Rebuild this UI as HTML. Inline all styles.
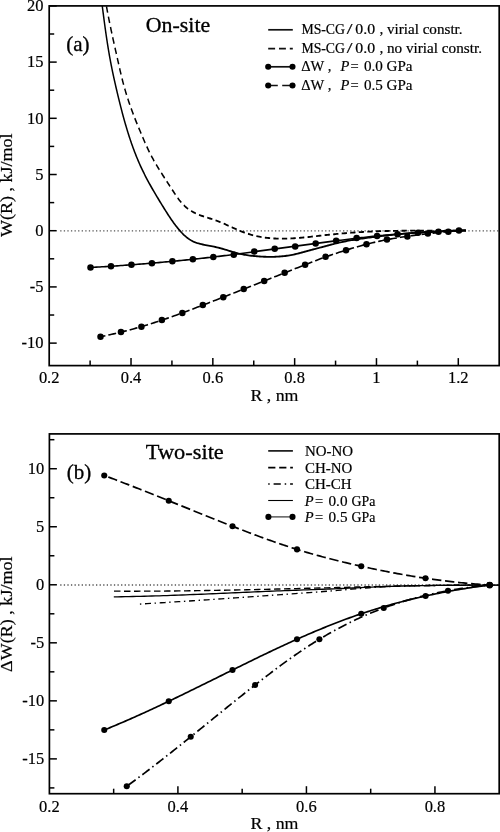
<!DOCTYPE html>
<html><head><meta charset="utf-8"><title>Figure</title>
<style>html,body{margin:0;padding:0;background:#fff}svg{display:block}text{stroke:#000;stroke-width:.2px}text.t{stroke-width:.32px}</style></head>
<body>
<svg width="500" height="832" viewBox="0 0 500 832" font-family="Liberation Serif, serif" fill="#000">
<rect width="500" height="832" fill="#fff"/>
<clipPath id="ca"><rect x="49.2" y="5.9" width="450.0" height="359.70000000000005"/></clipPath>
<line x1="60.2" y1="230.8" x2="499.2" y2="230.8" stroke="#555" stroke-width="1.3" stroke-dasharray="1.3 2.28"/>
<g clip-path="url(#ca)" fill="none" stroke="#000" stroke-width="1.6">
<g transform="scale(0.8,1)" stroke-width="1.85">
<path d="M122.72,-24.99 L122.97,-23.59 L123.21,-22.19 L123.46,-20.79 L123.70,-19.38 L123.94,-17.98 L124.17,-16.58 L124.41,-15.17 L124.64,-13.77 L124.88,-12.36 L125.11,-10.95 L125.34,-9.55 L125.57,-8.14 L125.79,-6.73 L126.02,-5.32 L126.25,-3.91 L126.47,-2.51 L126.70,-1.10 L126.93,0.31 L127.15,1.72 L127.38,3.13 L127.60,4.54 L127.83,5.95 L128.05,7.36 L128.28,8.78 L128.50,10.19 L128.73,11.60 L128.96,13.01 L129.19,14.42 L129.41,15.83 L129.65,17.24 L129.88,18.65 L130.11,20.06 L130.34,21.47 L130.58,22.88 L130.82,24.29 L131.06,25.70 L131.30,27.11 L131.54,28.52 L131.79,29.93 L132.04,31.34 L132.29,32.74 L132.54,34.15 L132.80,35.56 L133.06,36.96 L133.32,38.37 L133.58,39.78 L133.85,41.18 L134.12,42.59 L134.39,43.99 L134.67,45.39 L134.95,46.80 L135.24,48.20 L135.53,49.60 L135.82,51.00 L136.12,52.40 L136.42,53.80 L136.72,55.19 L137.03,56.59 L137.35,57.99 L137.67,59.38 L137.99,60.78 L138.32,62.17 L138.65,63.56 L138.99,64.95 L139.33,66.34 L139.68,67.73 L140.03,69.12 L140.39,70.51 L140.75,71.90 L141.11,73.28 L141.48,74.67 L141.85,76.05 L142.23,77.44 L142.60,78.82 L142.99,80.21 L143.37,81.59 L143.76,82.97 L144.15,84.36 L144.55,85.74 L144.95,87.12 L145.35,88.50 L145.75,89.88 L146.16,91.27 L146.57,92.65 L146.98,94.03 L147.39,95.41 L147.81,96.79 L148.23,98.17 L148.65,99.55 L149.08,100.93 L149.50,102.31 L149.93,103.70 L150.37,105.08 L150.80,106.45 L151.24,107.83 L151.69,109.21 L152.13,110.59 L152.58,111.97 L153.04,113.34 L153.50,114.72 L153.96,116.09 L154.43,117.47 L154.90,118.84 L155.38,120.21 L155.86,121.58 L156.35,122.95 L156.84,124.32 L157.34,125.68 L157.84,127.05 L158.35,128.41 L158.86,129.77 L159.38,131.13 L159.91,132.49 L160.44,133.85 L160.98,135.20 L161.52,136.55 L162.08,137.90 L162.63,139.25 L163.20,140.60 L163.77,141.94 L164.35,143.28 L164.94,144.62 L165.53,145.96 L166.14,147.29 L166.75,148.63 L167.36,149.95 L167.99,151.28 L168.63,152.61 L169.27,153.93 L169.92,155.24 L170.58,156.56 L171.25,157.87 L171.93,159.18 L172.61,160.49 L173.31,161.79 L174.02,163.09 L174.73,164.39 L175.46,165.68 L176.19,166.97 L176.94,168.25 L177.69,169.53 L178.46,170.81 L179.23,172.09 L180.02,173.36 L180.81,174.63 L181.62,175.89 L182.43,177.15 L183.25,178.41 L184.08,179.66 L184.92,180.92 L185.77,182.16 L186.62,183.41 L187.48,184.65 L188.35,185.89 L189.22,187.13 L190.10,188.37 L190.99,189.60 L191.88,190.83 L192.77,192.06 L193.67,193.29 L194.58,194.51 L195.49,195.73 L196.40,196.95 L197.32,198.17 L198.24,199.39 L199.16,200.61 L200.09,201.82 L201.02,203.04 L201.95,204.25 L202.88,205.46 L203.81,206.67 L204.75,207.88 L205.68,209.08 L206.62,210.29 L207.57,211.49 L208.52,212.69 L209.47,213.89 L210.44,215.08 L211.41,216.27 L212.39,217.45 L213.38,218.62 L214.39,219.79 L215.40,220.96 L216.43,222.11 L217.48,223.26 L218.54,224.40 L219.61,225.53 L220.70,226.65 L221.81,227.77 L222.94,228.87 L224.09,229.96 L225.27,231.04 L226.46,232.10 L227.68,233.15 L228.93,234.16 L230.21,235.16 L231.52,236.11 L232.86,237.03 L234.23,237.91 L235.65,238.75 L237.10,239.53 L238.59,240.27 L240.12,240.94 L241.70,241.55 L243.32,242.10 L244.97,242.61 L246.65,243.06 L248.35,243.47 L250.06,243.85 L251.79,244.20 L253.53,244.52 L255.27,244.82 L257.02,245.10 L258.78,245.37 L260.53,245.63 L262.29,245.89 L264.05,246.15 L265.80,246.42 L267.56,246.69 L269.30,246.98 L271.04,247.29 L272.77,247.62 L274.49,247.98 L276.21,248.35 L277.91,248.74 L279.62,249.14 L281.31,249.55 L283.01,249.97 L284.70,250.40 L286.39,250.82 L288.09,251.24 L289.78,251.66 L291.48,252.07 L293.17,252.46 L294.88,252.85 L296.58,253.21 L298.30,253.56 L300.02,253.88 L301.75,254.18 L303.48,254.46 L305.22,254.71 L306.97,254.95 L308.72,255.17 L310.48,255.37 L312.24,255.56 L314.00,255.73 L315.77,255.89 L317.54,256.03 L319.31,256.16 L321.09,256.29 L322.86,256.40 L324.64,256.50 L326.41,256.59 L328.19,256.67 L329.97,256.73 L331.75,256.78 L333.53,256.82 L335.31,256.85 L337.08,256.86 L338.86,256.86 L340.64,256.84 L342.41,256.81 L344.19,256.76 L345.96,256.69 L347.73,256.61 L349.50,256.52 L351.26,256.40 L353.03,256.27 L354.79,256.12 L356.55,255.96 L358.30,255.77 L360.06,255.57 L361.80,255.35 L363.55,255.10 L365.29,254.84 L367.02,254.56 L368.76,254.26 L370.48,253.93 L372.21,253.59 L373.92,253.24 L375.64,252.87 L377.36,252.49 L379.07,252.12 L380.78,251.73 L382.50,251.36 L384.21,250.98 L385.93,250.61 L387.64,250.25 L389.36,249.88 L391.07,249.52 L392.79,249.16 L394.51,248.80 L396.22,248.44 L397.94,248.09 L399.66,247.72 L401.37,247.36 L403.09,246.99 L404.80,246.62 L406.52,246.25 L408.23,245.88 L409.94,245.51 L411.66,245.14 L413.37,244.77 L415.09,244.40 L416.81,244.05 L418.53,243.70 L420.25,243.35 L421.98,243.02 L423.70,242.69 L425.43,242.38 L427.16,242.08 L428.90,241.78 L430.64,241.50 L432.38,241.22 L434.12,240.95 L435.86,240.69 L437.61,240.44 L439.35,240.20 L441.10,239.96 L442.85,239.73 L444.61,239.50 L446.36,239.28 L448.11,239.07 L449.87,238.86 L451.63,238.66 L453.39,238.46 L455.14,238.26 L456.90,238.07 L458.66,237.88 L460.42,237.69 L462.19,237.51 L463.95,237.32 L465.71,237.14 L467.47,236.96 L469.23,236.79 L470.99,236.61 L472.76,236.44 L474.52,236.27 L476.28,236.10 L478.05,235.93 L479.81,235.77 L481.57,235.61 L483.34,235.44 L485.10,235.29 L486.87,235.13 L488.63,234.98 L490.40,234.82 L492.16,234.67 L493.93,234.53 L495.69,234.38 L497.46,234.24 L499.22,234.10 L500.99,233.96 L502.76,233.82 L504.53,233.69 L506.29,233.56 L508.06,233.43 L509.83,233.30 L511.60,233.18 L513.36,233.06 L515.13,232.94 L516.90,232.83 L518.67,232.71 L520.44,232.60 L522.21,232.49 L523.98,232.39 L525.75,232.28 L527.52,232.18 L529.29,232.08 L531.06,231.99 L532.83,231.90 L534.60,231.81 L536.37,231.72 L538.14,231.64 L539.92,231.56 L541.69,231.48 L543.46,231.40 L545.23,231.33 L547.00,231.26 L548.78,231.19 L550.55,231.13 L552.32,231.07 L554.10,231.01 L555.87,230.96 L557.64,230.90 L559.42,230.86 L561.19,230.81 L562.97,230.77 L564.74,230.73 L566.52,230.69 L568.29,230.66 L570.07,230.63 L571.84,230.60 L573.62,230.58 L575.40,230.56 L577.17,230.54 L578.95,230.53 L580.73,230.52 L582.50,230.51"/>
<path d="M133.10,6.40 L133.23,6.98 L133.53,8.31 L133.83,9.63 L134.14,10.95 L134.45,12.28 L134.76,13.60 L135.07,14.92 L135.39,16.24 L135.72,17.56 L136.04,18.88 L136.37,20.20 L136.70,21.52 L137.03,22.84 L137.37,24.16 L137.71,25.48 L138.05,26.79 L138.40,28.11 L138.74,29.43 L139.09,30.74 L139.44,32.06 L139.79,33.38 L140.15,34.69 L140.50,36.01 L140.86,37.33 L141.22,38.64 L141.58,39.96 L141.94,41.27 L142.30,42.59 L142.66,43.90 L143.03,45.21 L143.39,46.53 L143.76,47.84 L144.13,49.16 L144.49,50.47 L144.86,51.79 L145.23,53.10 L145.60,54.41 L145.96,55.73 L146.33,57.04 L146.70,58.35 L147.07,59.67 L147.44,60.98 L147.80,62.30 L148.17,63.61 L148.54,64.92 L148.91,66.24 L149.28,67.55 L149.66,68.86 L150.03,70.17 L150.41,71.49 L150.80,72.80 L151.18,74.11 L151.57,75.42 L151.97,76.72 L152.37,78.03 L152.78,79.34 L153.20,80.64 L153.62,81.94 L154.04,83.24 L154.48,84.54 L154.92,85.84 L155.37,87.14 L155.83,88.43 L156.30,89.73 L156.77,91.02 L157.25,92.31 L157.74,93.59 L158.24,94.88 L158.74,96.17 L159.25,97.45 L159.77,98.73 L160.29,100.01 L160.82,101.29 L161.36,102.56 L161.90,103.84 L162.45,105.11 L163.01,106.38 L163.57,107.65 L164.14,108.92 L164.71,110.18 L165.29,111.44 L165.88,112.71 L166.47,113.96 L167.07,115.22 L167.68,116.48 L168.29,117.73 L168.90,118.98 L169.52,120.23 L170.15,121.48 L170.78,122.73 L171.41,123.98 L172.05,125.22 L172.69,126.46 L173.34,127.71 L173.99,128.95 L174.63,130.19 L175.29,131.43 L175.94,132.68 L176.59,133.92 L177.25,135.17 L177.91,136.41 L178.57,137.66 L179.23,138.90 L179.90,140.14 L180.57,141.38 L181.25,142.62 L181.94,143.85 L182.63,145.08 L183.33,146.31 L184.03,147.54 L184.75,148.76 L185.47,149.97 L186.20,151.18 L186.95,152.39 L187.70,153.59 L188.47,154.79 L189.24,155.97 L190.03,157.16 L190.83,158.34 L191.64,159.51 L192.45,160.68 L193.28,161.84 L194.12,163.00 L194.96,164.15 L195.81,165.31 L196.67,166.45 L197.54,167.60 L198.41,168.74 L199.29,169.88 L200.18,171.02 L201.07,172.16 L201.97,173.29 L202.87,174.42 L203.77,175.55 L204.68,176.69 L205.60,177.82 L206.51,178.95 L207.43,180.08 L208.35,181.21 L209.28,182.34 L210.20,183.47 L211.13,184.60 L212.05,185.74 L212.98,186.88 L213.91,188.01 L214.83,189.16 L215.76,190.30 L216.68,191.44 L217.61,192.59 L218.54,193.73 L219.49,194.86 L220.44,195.99 L221.41,197.10 L222.39,198.21 L223.39,199.29 L224.41,200.36 L225.46,201.41 L226.53,202.44 L227.63,203.44 L228.77,204.41 L229.93,205.36 L231.14,206.27 L232.38,207.14 L233.66,207.99 L234.98,208.79 L236.33,209.57 L237.72,210.31 L239.13,211.02 L240.57,211.69 L242.04,212.33 L243.53,212.95 L245.05,213.53 L246.58,214.08 L248.13,214.60 L249.70,215.09 L251.28,215.56 L252.87,216.01 L254.48,216.45 L256.09,216.87 L257.70,217.27 L259.32,217.68 L260.94,218.08 L262.56,218.48 L264.18,218.89 L265.79,219.30 L267.39,219.73 L268.99,220.17 L270.57,220.63 L272.15,221.11 L273.71,221.60 L275.27,222.10 L276.82,222.62 L278.37,223.15 L279.91,223.68 L281.44,224.23 L282.97,224.78 L284.50,225.33 L286.03,225.89 L287.56,226.44 L289.08,227.00 L290.61,227.56 L292.14,228.11 L293.68,228.66 L295.21,229.20 L296.75,229.73 L298.30,230.26 L299.86,230.77 L301.42,231.27 L302.98,231.76 L304.56,232.24 L306.14,232.70 L307.73,233.15 L309.32,233.58 L310.92,233.99 L312.52,234.39 L314.14,234.78 L315.75,235.14 L317.38,235.48 L319.01,235.81 L320.64,236.11 L322.29,236.40 L323.93,236.67 L325.58,236.91 L327.24,237.14 L328.90,237.36 L330.56,237.55 L332.23,237.73 L333.90,237.89 L335.58,238.03 L337.25,238.16 L338.93,238.28 L340.61,238.37 L342.30,238.46 L343.98,238.53 L345.67,238.59 L347.35,238.63 L349.04,238.66 L350.73,238.68 L352.42,238.69 L354.10,238.68 L355.79,238.66 L357.48,238.64 L359.16,238.60 L360.84,238.55 L362.53,238.50 L364.21,238.43 L365.89,238.36 L367.56,238.28 L369.24,238.19 L370.92,238.10 L372.59,237.99 L374.27,237.88 L375.94,237.77 L377.61,237.65 L379.29,237.52 L380.96,237.39 L382.63,237.26 L384.30,237.12 L385.97,236.98 L387.64,236.84 L389.31,236.69 L390.98,236.54 L392.65,236.39 L394.32,236.24 L395.99,236.09 L397.66,235.94 L399.33,235.79 L401.00,235.64 L402.67,235.49 L404.35,235.34 L406.02,235.19 L407.69,235.04 L409.36,234.90 L411.04,234.76 L412.71,234.62 L414.39,234.48 L416.06,234.34 L417.74,234.21 L419.41,234.07 L421.09,233.94 L422.76,233.82 L424.44,233.69 L426.12,233.57 L427.79,233.45 L429.47,233.33 L431.15,233.21 L432.83,233.10 L434.51,232.99 L436.18,232.88 L437.86,232.77 L439.54,232.67 L441.22,232.57 L442.90,232.48 L444.58,232.39 L446.26,232.30 L447.94,232.21 L449.62,232.13 L451.30,232.05 L452.98,231.97 L454.66,231.89 L456.34,231.82 L458.02,231.75 L459.70,231.69 L461.38,231.62 L463.06,231.56 L464.74,231.50 L466.42,231.45 L468.10,231.39 L469.78,231.34 L471.46,231.29 L473.14,231.25 L474.82,231.20 L476.50,231.16 L478.19,231.12 L479.87,231.08 L481.55,231.04 L483.23,231.01 L484.91,230.98 L486.59,230.94 L488.28,230.92 L489.96,230.89 L491.64,230.86 L493.32,230.84 L495.00,230.82 L496.69,230.80 L498.37,230.78 L500.05,230.76 L501.73,230.74 L503.42,230.73 L505.10,230.71 L506.78,230.70 L508.46,230.69 L510.15,230.68 L511.83,230.67 L513.51,230.66 L515.19,230.65 L516.88,230.64 L518.56,230.64 L520.24,230.63 L521.92,230.63 L523.61,230.62 L525.29,230.62 L526.97,230.62 L528.66,230.62 L530.34,230.61 L532.02,230.61 L533.71,230.61 L535.39,230.61 L537.07,230.61 L538.75,230.61 L540.44,230.61 L542.12,230.61 L543.80,230.61 L545.49,230.61 L547.17,230.61 L548.85,230.61 L550.53,230.61 L552.22,230.61 L553.90,230.61 L555.58,230.61 L557.26,230.61 L558.95,230.60 L560.63,230.60 L562.31,230.60 L564.00,230.59 L565.68,230.59 L567.36,230.58 L569.04,230.58 L570.73,230.57 L572.41,230.56 L574.09,230.56 L575.77,230.55 L577.45,230.54 L579.14,230.52 L580.82,230.51 L582.50,230.50" stroke-dasharray="6.6 4.1" stroke-dashoffset="0.2"/>
</g>
<path d="M90.50,267.50 L92.39,267.39 L94.28,267.28 L96.17,267.17 L98.06,267.05 L99.96,266.94 L101.85,266.82 L103.74,266.70 L105.63,266.58 L107.52,266.46 L109.41,266.34 L111.30,266.21 L113.19,266.08 L115.08,265.96 L116.97,265.83 L118.86,265.70 L120.75,265.56 L122.64,265.43 L124.53,265.29 L126.42,265.16 L128.31,265.02 L130.20,264.88 L132.09,264.74 L133.98,264.59 L135.87,264.45 L137.75,264.30 L139.64,264.15 L141.53,264.00 L143.42,263.85 L145.31,263.70 L147.20,263.54 L149.08,263.39 L150.97,263.23 L152.86,263.07 L154.75,262.91 L156.64,262.74 L158.52,262.58 L160.41,262.41 L162.30,262.24 L164.18,262.07 L166.07,261.90 L167.96,261.73 L169.84,261.55 L171.73,261.38 L173.62,261.20 L175.50,261.02 L177.39,260.84 L179.27,260.65 L181.16,260.47 L183.05,260.28 L184.93,260.09 L186.82,259.90 L188.70,259.70 L190.58,259.51 L192.47,259.31 L194.35,259.11 L196.24,258.91 L198.12,258.71 L200.00,258.51 L201.89,258.30 L203.77,258.09 L205.65,257.88 L207.54,257.67 L209.42,257.46 L211.30,257.24 L213.18,257.02 L215.06,256.80 L216.94,256.58 L218.82,256.35 L220.71,256.12 L222.59,255.89 L224.47,255.66 L226.35,255.42 L228.22,255.19 L230.10,254.95 L231.98,254.71 L233.86,254.46 L235.74,254.21 L237.62,253.96 L239.49,253.71 L241.37,253.46 L243.25,253.20 L245.12,252.95 L247.00,252.69 L248.88,252.43 L250.75,252.17 L252.63,251.92 L254.51,251.66 L256.38,251.40 L258.26,251.14 L260.14,250.89 L262.01,250.63 L263.89,250.38 L265.77,250.12 L267.65,249.87 L269.52,249.62 L271.40,249.36 L273.28,249.11 L275.16,248.86 L277.03,248.61 L278.91,248.37 L280.79,248.12 L282.67,247.87 L284.54,247.62 L286.42,247.38 L288.30,247.13 L290.18,246.88 L292.06,246.64 L293.94,246.39 L295.81,246.14 L297.69,245.89 L299.57,245.64 L301.45,245.39 L303.33,245.14 L305.20,244.89 L307.08,244.63 L308.96,244.38 L310.84,244.13 L312.72,243.88 L314.59,243.63 L316.47,243.37 L318.35,243.12 L320.23,242.87 L322.11,242.62 L323.98,242.37 L325.86,242.12 L327.74,241.88 L329.62,241.63 L331.50,241.38 L333.38,241.14 L335.26,240.89 L337.13,240.65 L339.01,240.41 L340.89,240.17 L342.77,239.93 L344.65,239.69 L346.53,239.46 L348.41,239.23 L350.29,239.00 L352.17,238.77 L354.05,238.54 L355.94,238.32 L357.82,238.10 L359.70,237.88 L361.58,237.66 L363.46,237.45 L365.34,237.23 L367.23,237.03 L369.11,236.82 L370.99,236.62 L372.88,236.42 L374.76,236.22 L376.64,236.03 L378.53,235.84 L380.41,235.66 L382.30,235.48 L384.18,235.30 L386.07,235.12 L387.96,234.95 L389.84,234.79 L391.73,234.63 L393.62,234.47 L395.51,234.31 L397.40,234.17 L399.28,234.02 L401.17,233.88 L403.06,233.75 L404.95,233.61 L406.84,233.49 L408.74,233.36 L410.63,233.24 L412.52,233.12 L414.41,233.01 L416.30,232.90 L418.19,232.79 L420.09,232.68 L421.98,232.58 L423.87,232.48 L425.76,232.38 L427.66,232.28 L429.55,232.18 L431.44,232.09 L433.33,231.99 L435.23,231.90 L437.12,231.81 L439.01,231.72 L440.91,231.63 L442.80,231.54 L444.69,231.45 L446.58,231.36 L448.48,231.27 L450.37,231.17 L452.26,231.08 L454.15,230.99 L456.04,230.90 L457.93,230.80 L459.82,230.71 L461.71,230.61 L463.60,230.51 L465.49,230.41" stroke-width="1.6"/>
<path d="M100.49,336.73 L102.38,336.34 L104.26,335.95 L106.13,335.55 L108.01,335.14 L109.89,334.72 L111.76,334.30 L113.63,333.87 L115.50,333.43 L117.37,332.99 L119.24,332.53 L121.10,332.08 L122.96,331.61 L124.82,331.13 L126.68,330.65 L128.54,330.17 L130.39,329.67 L132.25,329.17 L134.10,328.66 L135.95,328.14 L137.79,327.62 L139.64,327.09 L141.48,326.56 L143.32,326.01 L145.16,325.46 L147.00,324.91 L148.84,324.34 L150.67,323.78 L152.50,323.20 L154.33,322.62 L156.16,322.03 L157.98,321.44 L159.81,320.83 L161.63,320.23 L163.45,319.61 L165.26,318.99 L167.08,318.37 L168.89,317.74 L170.70,317.10 L172.51,316.46 L174.32,315.82 L176.12,315.16 L177.93,314.51 L179.73,313.85 L181.53,313.19 L183.33,312.52 L185.13,311.85 L186.93,311.18 L188.73,310.50 L190.53,309.82 L192.32,309.14 L194.11,308.46 L195.91,307.77 L197.70,307.08 L199.49,306.40 L201.29,305.70 L203.08,305.01 L204.87,304.32 L206.66,303.63 L208.45,302.93 L210.24,302.24 L212.03,301.54 L213.82,300.84 L215.61,300.15 L217.39,299.45 L219.18,298.75 L220.97,298.05 L222.76,297.35 L224.55,296.65 L226.33,295.95 L228.12,295.24 L229.91,294.54 L231.69,293.84 L233.48,293.13 L235.27,292.43 L237.05,291.72 L238.84,291.02 L240.62,290.31 L242.41,289.61 L244.19,288.90 L245.98,288.19 L247.76,287.49 L249.55,286.78 L251.33,286.07 L253.12,285.36 L254.90,284.65 L256.69,283.94 L258.47,283.24 L260.26,282.53 L262.04,281.82 L263.82,281.11 L265.61,280.40 L267.39,279.69 L269.18,278.98 L270.96,278.27 L272.74,277.56 L274.53,276.86 L276.31,276.15 L278.10,275.44 L279.88,274.73 L281.67,274.02 L283.45,273.31 L285.23,272.60 L287.02,271.90 L288.80,271.19 L290.59,270.48 L292.37,269.77 L294.16,269.07 L295.94,268.36 L297.73,267.66 L299.52,266.95 L301.30,266.25 L303.09,265.54 L304.87,264.84 L306.66,264.13 L308.45,263.43 L310.23,262.73 L312.02,262.03 L313.81,261.34 L315.60,260.65 L317.40,259.96 L319.19,259.29 L320.99,258.61 L322.79,257.95 L324.59,257.29 L326.40,256.64 L328.21,256.00 L330.02,255.37 L331.84,254.75 L333.66,254.13 L335.48,253.53 L337.30,252.92 L339.13,252.33 L340.96,251.74 L342.79,251.16 L344.62,250.58 L346.45,250.01 L348.29,249.44 L350.13,248.88 L351.96,248.32 L353.81,247.77 L355.65,247.22 L357.49,246.69 L359.34,246.16 L361.19,245.65 L363.04,245.14 L364.90,244.65 L366.76,244.16 L368.62,243.69 L370.48,243.24 L372.35,242.79 L374.22,242.35 L376.09,241.93 L377.96,241.52 L379.84,241.12 L381.72,240.73 L383.60,240.34 L385.48,239.97 L387.37,239.61 L389.25,239.26 L391.14,238.91 L393.03,238.58 L394.92,238.25 L396.82,237.93 L398.71,237.62 L400.61,237.32 L402.50,237.02 L404.40,236.74 L406.30,236.45 L408.20,236.18 L410.10,235.91 L412.01,235.64 L413.91,235.38 L415.81,235.13 L417.72,234.89 L419.62,234.65 L421.53,234.41 L423.44,234.18 L425.34,233.96 L427.25,233.74 L429.16,233.53 L431.07,233.32 L432.98,233.12 L434.89,232.92 L436.80,232.73 L438.71,232.55 L440.62,232.36 L442.53,232.19 L444.45,232.02 L446.36,231.85 L448.27,231.69 L450.18,231.53 L452.10,231.38 L454.01,231.23 L455.92,231.08 L457.84,230.94 L459.75,230.81 L461.67,230.68 L463.58,230.55 L465.49,230.43" stroke-width="1.6" stroke-dasharray="8 3" stroke-dashoffset="3"/>
</g>
<circle cx="90.5" cy="267.5" r="3.25"/>
<circle cx="110.97" cy="266.25" r="3.25"/>
<circle cx="131.44" cy="264.75" r="3.25"/>
<circle cx="151.91" cy="263.2" r="3.25"/>
<circle cx="172.38" cy="261.3" r="3.25"/>
<circle cx="192.85" cy="259.2" r="3.25"/>
<circle cx="213.32" cy="257.0" r="3.25"/>
<circle cx="233.79" cy="254.7" r="3.25"/>
<circle cx="254.26" cy="251.5" r="3.25"/>
<circle cx="274.73" cy="248.8" r="3.25"/>
<circle cx="295.2" cy="246.4" r="3.25"/>
<circle cx="315.66999999999996" cy="243.5" r="3.25"/>
<circle cx="336.14" cy="240.8" r="3.25"/>
<circle cx="356.61" cy="238.1" r="3.25"/>
<circle cx="377.08" cy="236" r="3.25"/>
<circle cx="397.54999999999995" cy="234.2" r="3.25"/>
<circle cx="418.02" cy="232.8" r="3.25"/>
<circle cx="438.49" cy="231.8" r="3.25"/>
<circle cx="458.96" cy="230.6" r="3.25"/>
<circle cx="100.5" cy="336.75" r="3.25"/>
<circle cx="120.96000000000001" cy="332" r="3.25"/>
<circle cx="141.42000000000002" cy="326.75" r="3.25"/>
<circle cx="161.88" cy="320" r="3.25"/>
<circle cx="182.34" cy="313" r="3.25"/>
<circle cx="202.8" cy="305" r="3.25"/>
<circle cx="223.26" cy="297.2" r="3.25"/>
<circle cx="243.72" cy="289.1" r="3.25"/>
<circle cx="264.18" cy="281" r="3.25"/>
<circle cx="284.64" cy="272.8" r="3.25"/>
<circle cx="305.1" cy="264.8" r="3.25"/>
<circle cx="325.56" cy="256.8" r="3.25"/>
<circle cx="346.02" cy="250.3" r="3.25"/>
<circle cx="366.48" cy="244.2" r="3.25"/>
<circle cx="386.94" cy="239.6" r="3.25"/>
<circle cx="407.40000000000003" cy="236.4" r="3.25"/>
<circle cx="427.86" cy="233.6" r="3.25"/>
<circle cx="448.32" cy="231.8" r="3.25"/>
<rect x="49.2" y="5.9" width="450.0" height="359.70000000000005" fill="none" stroke="#000" stroke-width="1.7"/>
<g stroke="#000" stroke-width="1.5">
<line x1="49.2" y1="343.12" x2="56.7" y2="343.12"/>
<line x1="49.2" y1="315.02" x2="54.2" y2="315.02"/>
<line x1="49.2" y1="286.92" x2="56.7" y2="286.92"/>
<line x1="49.2" y1="258.81" x2="54.2" y2="258.81"/>
<line x1="49.2" y1="230.71" x2="56.7" y2="230.71"/>
<line x1="49.2" y1="202.61" x2="54.2" y2="202.61"/>
<line x1="49.2" y1="174.51" x2="56.7" y2="174.51"/>
<line x1="49.2" y1="146.41" x2="54.2" y2="146.41"/>
<line x1="49.2" y1="118.31" x2="56.7" y2="118.31"/>
<line x1="49.2" y1="90.20" x2="54.2" y2="90.20"/>
<line x1="49.2" y1="62.10" x2="56.7" y2="62.10"/>
<line x1="49.2" y1="34.00" x2="54.2" y2="34.00"/>
<line x1="49.2" y1="5.90" x2="56.7" y2="5.90"/>
<line x1="90.11" y1="365.6" x2="90.11" y2="360.6"/>
<line x1="131.02" y1="365.6" x2="131.02" y2="358.1"/>
<line x1="171.93" y1="365.6" x2="171.93" y2="360.6"/>
<line x1="212.84" y1="365.6" x2="212.84" y2="358.1"/>
<line x1="253.75" y1="365.6" x2="253.75" y2="360.6"/>
<line x1="294.65" y1="365.6" x2="294.65" y2="358.1"/>
<line x1="335.56" y1="365.6" x2="335.56" y2="360.6"/>
<line x1="376.47" y1="365.6" x2="376.47" y2="358.1"/>
<line x1="417.38" y1="365.6" x2="417.38" y2="360.6"/>
<line x1="458.29" y1="365.6" x2="458.29" y2="358.1"/>
</g>
<text x="43.5" y="11.20" font-size="17.2" text-anchor="end" textLength="16.5" lengthAdjust="spacingAndGlyphs" >20</text>
<text x="43.5" y="67.40" font-size="17.2" text-anchor="end" textLength="16.5" lengthAdjust="spacingAndGlyphs" >15</text>
<text x="43.5" y="123.61" font-size="17.2" text-anchor="end" textLength="16.5" lengthAdjust="spacingAndGlyphs" >10</text>
<text x="43.5" y="179.81" font-size="17.2" text-anchor="end" textLength="8.25" lengthAdjust="spacingAndGlyphs" >5</text>
<text x="43.5" y="236.01" font-size="17.2" text-anchor="end" textLength="8.25" lengthAdjust="spacingAndGlyphs" >0</text>
<text x="43.5" y="292.22" font-size="17.2" text-anchor="end" textLength="13.74" lengthAdjust="spacingAndGlyphs" >-5</text>
<text x="43.5" y="348.42" font-size="17.2" text-anchor="end" textLength="21.99" lengthAdjust="spacingAndGlyphs" >-10</text>
<text x="49.20" y="383.1" font-size="17.2" text-anchor="middle" textLength="20.62" lengthAdjust="spacingAndGlyphs" >0.2</text>
<text x="131.02" y="383.1" font-size="17.2" text-anchor="middle" textLength="20.62" lengthAdjust="spacingAndGlyphs" >0.4</text>
<text x="212.84" y="383.1" font-size="17.2" text-anchor="middle" textLength="20.62" lengthAdjust="spacingAndGlyphs" >0.6</text>
<text x="294.65" y="383.1" font-size="17.2" text-anchor="middle" textLength="20.62" lengthAdjust="spacingAndGlyphs" >0.8</text>
<text x="376.47" y="383.1" font-size="17.2" text-anchor="middle" textLength="8.25" lengthAdjust="spacingAndGlyphs" >1</text>
<text x="458.29" y="383.1" font-size="17.2" text-anchor="middle" textLength="20.62" lengthAdjust="spacingAndGlyphs" >1.2</text>
<text x="274.4" y="400.7" font-size="16.5" text-anchor="middle" textLength="48" lengthAdjust="spacingAndGlyphs" >R , nm</text>
<text transform="translate(11.6,185.2) rotate(-90)" font-size="16.5" text-anchor="middle" textLength="103.6" lengthAdjust="spacingAndGlyphs">W(R) , kJ/mol</text>
<text x="145.8" y="31.8" font-size="21.5" text-anchor="start" textLength="64.4" lengthAdjust="spacingAndGlyphs" class="t">On-site</text>
<text x="66.2" y="50.8" font-size="21" text-anchor="start" class="t">(a)</text>
<g stroke="#111" stroke-width="1.7">
<line x1="268.2" y1="29.8" x2="292.8" y2="29.8"/>
<line x1="268.2" y1="48.7" x2="292.8" y2="48.7" stroke-dasharray="6.9 3.9"/>
<line x1="268.2" y1="66.8" x2="292.5" y2="66.8"/>
<line x1="268.2" y1="85.5" x2="292.5" y2="85.5" stroke-dasharray="9.6 4.4"/>
</g>
<circle cx="268.2" cy="66.8" r="3.05"/>
<circle cx="292.5" cy="66.8" r="3.05"/>
<circle cx="268.2" cy="85.5" r="3.05"/>
<circle cx="292.5" cy="85.5" r="3.05"/>
<text x="301.4" y="34.2" font-size="14.5" text-anchor="start" textLength="43.6" lengthAdjust="spacingAndGlyphs" >MS-CG</text>
<text x="346.8" y="34.2" font-size="14.5" text-anchor="start" textLength="5.7" lengthAdjust="spacingAndGlyphs" >/</text>
<text x="355.3" y="34.2" font-size="14.5" text-anchor="start" textLength="19.8" lengthAdjust="spacingAndGlyphs" >0.0</text>
<text x="379.4" y="34.2" font-size="14.5" text-anchor="start" textLength="83.2" lengthAdjust="spacingAndGlyphs" >, virial constr.</text>
<text x="301.4" y="53.1" font-size="14.5" text-anchor="start" textLength="43.6" lengthAdjust="spacingAndGlyphs" >MS-CG</text>
<text x="346.8" y="53.1" font-size="14.5" text-anchor="start" textLength="5.7" lengthAdjust="spacingAndGlyphs" >/</text>
<text x="355.3" y="53.1" font-size="14.5" text-anchor="start" textLength="19.8" lengthAdjust="spacingAndGlyphs" >0.0</text>
<text x="379.4" y="53.1" font-size="14.5" text-anchor="start" textLength="102.6" lengthAdjust="spacingAndGlyphs" >, no virial constr.</text>
<text x="301.3" y="71.0" font-size="14.5" text-anchor="start" textLength="30" lengthAdjust="spacingAndGlyphs" >ΔW ,</text>
<text x="340.4" y="71.0" font-size="14.5" text-anchor="start" font-style="italic">P</text>
<text x="350.6" y="71.0" font-size="14.5" text-anchor="start" >=</text>
<text x="363.9" y="71.0" font-size="14.5" text-anchor="start" textLength="48.6" lengthAdjust="spacingAndGlyphs" >0.0 GPa</text>
<text x="301.3" y="89.5" font-size="14.5" text-anchor="start" textLength="30" lengthAdjust="spacingAndGlyphs" >ΔW ,</text>
<text x="340.4" y="89.5" font-size="14.5" text-anchor="start" font-style="italic">P</text>
<text x="350.6" y="89.5" font-size="14.5" text-anchor="start" >=</text>
<text x="363.9" y="89.5" font-size="14.5" text-anchor="start" textLength="48.6" lengthAdjust="spacingAndGlyphs" >0.5 GPa</text>
<clipPath id="cb"><rect x="49.4" y="433.9" width="449.8" height="359.80000000000007"/></clipPath>
<line x1="60.2" y1="585" x2="499.2" y2="585" stroke="#555" stroke-width="1.3" stroke-dasharray="1.3 2.28"/>
<g fill="none" stroke="#000" stroke-width="1.7">
<path d="M104.25,475.50 L106.15,476.21 L108.04,476.92 L109.94,477.64 L111.83,478.35 L113.72,479.07 L115.61,479.79 L117.50,480.52 L119.39,481.24 L121.28,481.97 L123.17,482.69 L125.06,483.42 L126.95,484.16 L128.83,484.89 L130.72,485.63 L132.60,486.36 L134.49,487.10 L136.37,487.84 L138.25,488.58 L140.13,489.32 L142.02,490.07 L143.90,490.81 L145.78,491.56 L147.66,492.30 L149.54,493.05 L151.42,493.80 L153.30,494.55 L155.18,495.30 L157.05,496.05 L158.93,496.81 L160.81,497.56 L162.69,498.31 L164.57,499.07 L166.44,499.82 L168.32,500.58 L170.20,501.33 L172.07,502.09 L173.95,502.84 L175.83,503.60 L177.70,504.36 L179.58,505.12 L181.45,505.87 L183.33,506.63 L185.21,507.39 L187.08,508.14 L188.96,508.90 L190.84,509.66 L192.71,510.41 L194.59,511.17 L196.47,511.92 L198.34,512.68 L200.22,513.43 L202.10,514.19 L203.98,514.94 L205.86,515.69 L207.74,516.45 L209.61,517.20 L211.49,517.95 L213.37,518.70 L215.25,519.45 L217.13,520.19 L219.02,520.94 L220.90,521.69 L222.78,522.43 L224.66,523.17 L226.55,523.92 L228.43,524.66 L230.31,525.39 L232.20,526.13 L234.08,526.87 L235.97,527.60 L237.86,528.34 L239.75,529.07 L241.64,529.80 L243.53,530.52 L245.42,531.25 L247.31,531.97 L249.20,532.69 L251.09,533.40 L252.99,534.12 L254.88,534.83 L256.78,535.53 L258.68,536.24 L260.58,536.94 L262.48,537.63 L264.38,538.33 L266.29,539.02 L268.19,539.70 L270.10,540.38 L272.00,541.06 L273.91,541.73 L275.82,542.40 L277.74,543.06 L279.65,543.71 L281.56,544.37 L283.48,545.01 L285.40,545.66 L287.32,546.29 L289.24,546.92 L291.17,547.55 L293.09,548.17 L295.02,548.78 L296.95,549.39 L298.88,549.99 L300.82,550.58 L302.75,551.17 L304.69,551.75 L306.63,552.32 L308.57,552.89 L310.52,553.46 L312.46,554.02 L314.41,554.57 L316.36,555.11 L318.31,555.65 L320.26,556.19 L322.21,556.72 L324.17,557.25 L326.12,557.76 L328.08,558.28 L330.04,558.79 L332.00,559.29 L333.96,559.79 L335.93,560.29 L337.89,560.78 L339.86,561.26 L341.82,561.74 L343.79,562.22 L345.76,562.69 L347.73,563.16 L349.70,563.62 L351.67,564.08 L353.65,564.54 L355.62,564.99 L357.60,565.43 L359.57,565.88 L361.55,566.32 L363.53,566.75 L365.50,567.18 L367.48,567.61 L369.46,568.04 L371.44,568.46 L373.42,568.87 L375.41,569.29 L377.39,569.69 L379.37,570.10 L381.36,570.50 L383.34,570.90 L385.33,571.29 L387.32,571.68 L389.30,572.06 L391.29,572.44 L393.28,572.82 L395.27,573.19 L397.26,573.55 L399.25,573.92 L401.24,574.27 L403.24,574.63 L405.23,574.98 L407.22,575.32 L409.22,575.66 L411.21,575.99 L413.21,576.33 L415.21,576.65 L417.20,576.97 L419.20,577.29 L421.20,577.60 L423.20,577.90 L425.20,578.21 L427.20,578.50 L429.21,578.79 L431.21,579.08 L433.21,579.36 L435.22,579.64 L437.22,579.91 L439.23,580.17 L441.23,580.43 L443.24,580.69 L445.25,580.94 L447.26,581.18 L449.27,581.42 L451.28,581.65 L453.29,581.88 L455.30,582.10 L457.31,582.32 L459.32,582.53 L461.34,582.74 L463.35,582.94 L465.37,583.13 L467.38,583.32 L469.40,583.50 L471.42,583.68 L473.43,583.85 L475.45,584.02 L477.47,584.17 L479.49,584.33 L481.51,584.47 L483.53,584.61 L485.55,584.75 L487.58,584.88 L489.60,585.00" stroke-dasharray="9.4 3.7" stroke-dashoffset="-4.3"/>
<path d="M104.25,730.00 L106.18,729.21 L108.10,728.42 L110.03,727.63 L111.95,726.83 L113.87,726.02 L115.79,725.21 L117.70,724.40 L119.62,723.59 L121.53,722.77 L123.44,721.94 L125.35,721.11 L127.25,720.28 L129.16,719.45 L131.06,718.61 L132.96,717.77 L134.87,716.92 L136.76,716.07 L138.66,715.22 L140.56,714.37 L142.45,713.51 L144.34,712.65 L146.24,711.78 L148.13,710.92 L150.01,710.05 L151.90,709.17 L153.79,708.30 L155.67,707.42 L157.56,706.54 L159.44,705.66 L161.32,704.77 L163.20,703.88 L165.08,702.99 L166.96,702.10 L168.84,701.21 L170.71,700.31 L172.59,699.41 L174.46,698.51 L176.34,697.61 L178.21,696.71 L180.08,695.80 L181.96,694.90 L183.83,693.99 L185.70,693.08 L187.57,692.17 L189.44,691.26 L191.30,690.34 L193.17,689.43 L195.04,688.51 L196.91,687.60 L198.77,686.68 L200.64,685.76 L202.50,684.84 L204.37,683.92 L206.23,683.00 L208.10,682.08 L209.96,681.16 L211.83,680.23 L213.69,679.31 L215.56,678.39 L217.42,677.47 L219.28,676.54 L221.15,675.62 L223.01,674.70 L224.88,673.77 L226.74,672.85 L228.60,671.93 L230.47,671.00 L232.33,670.08 L234.20,669.16 L236.06,668.24 L237.93,667.32 L239.79,666.40 L241.66,665.48 L243.53,664.56 L245.39,663.65 L247.26,662.73 L249.13,661.82 L251.00,660.90 L252.87,659.99 L254.74,659.08 L256.61,658.17 L258.48,657.27 L260.35,656.36 L262.22,655.46 L264.10,654.56 L265.97,653.66 L267.85,652.76 L269.73,651.86 L271.61,650.97 L273.49,650.08 L275.37,649.19 L277.25,648.31 L279.13,647.43 L281.02,646.55 L282.91,645.67 L284.79,644.80 L286.68,643.93 L288.57,643.06 L290.47,642.20 L292.36,641.34 L294.26,640.48 L296.15,639.63 L298.05,638.78 L299.95,637.93 L301.86,637.09 L303.76,636.26 L305.67,635.42 L307.58,634.59 L309.49,633.77 L311.40,632.95 L313.32,632.13 L315.23,631.32 L317.15,630.52 L319.07,629.71 L320.99,628.92 L322.92,628.13 L324.85,627.34 L326.77,626.56 L328.71,625.78 L330.64,625.01 L332.57,624.25 L334.51,623.49 L336.45,622.74 L338.39,621.99 L340.34,621.25 L342.28,620.52 L344.23,619.79 L346.18,619.07 L348.14,618.35 L350.09,617.64 L352.05,616.94 L354.01,616.25 L355.97,615.56 L357.94,614.88 L359.91,614.21 L361.88,613.54 L363.85,612.88 L365.83,612.23 L367.80,611.58 L369.78,610.94 L371.77,610.31 L373.75,609.69 L375.74,609.08 L377.73,608.47 L379.72,607.86 L381.71,607.27 L383.71,606.68 L385.71,606.10 L387.71,605.53 L389.71,604.96 L391.71,604.40 L393.72,603.85 L395.73,603.30 L397.73,602.76 L399.75,602.23 L401.76,601.70 L403.78,601.18 L405.79,600.67 L407.81,600.16 L409.83,599.66 L411.85,599.17 L413.88,598.68 L415.90,598.20 L417.93,597.73 L419.96,597.26 L421.99,596.80 L424.02,596.35 L426.05,595.90 L428.09,595.46 L430.12,595.02 L432.16,594.59 L434.20,594.17 L436.24,593.76 L438.28,593.35 L440.32,592.94 L442.36,592.54 L444.41,592.15 L446.45,591.76 L448.50,591.38 L450.55,591.01 L452.60,590.64 L454.65,590.28 L456.70,589.92 L458.75,589.57 L460.80,589.23 L462.85,588.89 L464.91,588.56 L466.96,588.23 L469.02,587.91 L471.07,587.59 L473.13,587.28 L475.19,586.98 L477.24,586.68 L479.30,586.39 L481.36,586.10 L483.42,585.81 L485.48,585.54 L487.54,585.27 L489.60,585.00"/>
<path d="M126.75,786.25 L128.47,785.00 L130.19,783.74 L131.90,782.49 L133.61,781.23 L135.32,779.96 L137.02,778.69 L138.73,777.42 L140.43,776.15 L142.12,774.87 L143.82,773.60 L145.51,772.31 L147.20,771.03 L148.89,769.74 L150.58,768.45 L152.26,767.16 L153.95,765.86 L155.63,764.57 L157.31,763.27 L158.98,761.97 L160.66,760.66 L162.33,759.36 L164.00,758.05 L165.67,756.74 L167.34,755.43 L169.01,754.11 L170.67,752.80 L172.34,751.48 L174.00,750.16 L175.66,748.84 L177.32,747.52 L178.98,746.20 L180.64,744.87 L182.29,743.54 L183.95,742.22 L185.60,740.89 L187.26,739.56 L188.91,738.23 L190.56,736.90 L192.22,735.57 L193.87,734.24 L195.52,732.90 L197.17,731.57 L198.82,730.23 L200.47,728.90 L202.12,727.56 L203.77,726.23 L205.42,724.89 L207.06,723.55 L208.71,722.22 L210.36,720.88 L212.01,719.54 L213.66,718.21 L215.31,716.87 L216.96,715.53 L218.61,714.20 L220.25,712.86 L221.91,711.53 L223.56,710.19 L225.21,708.86 L226.86,707.53 L228.51,706.19 L230.16,704.86 L231.82,703.53 L233.47,702.20 L235.13,700.87 L236.78,699.54 L238.44,698.21 L240.10,696.89 L241.76,695.56 L243.42,694.24 L245.08,692.92 L246.74,691.59 L248.41,690.27 L250.08,688.96 L251.74,687.64 L253.41,686.33 L255.08,685.01 L256.75,683.70 L258.43,682.39 L260.10,681.09 L261.78,679.78 L263.46,678.48 L265.14,677.18 L266.83,675.89 L268.52,674.60 L270.21,673.31 L271.90,672.02 L273.59,670.74 L275.29,669.46 L276.99,668.19 L278.70,666.92 L280.41,665.66 L282.12,664.40 L283.83,663.15 L285.55,661.90 L287.27,660.66 L289.00,659.42 L290.73,658.19 L292.47,656.96 L294.20,655.74 L295.95,654.53 L297.70,653.33 L299.45,652.13 L301.21,650.93 L302.97,649.75 L304.73,648.57 L306.51,647.40 L308.28,646.24 L310.07,645.09 L311.86,643.94 L313.65,642.81 L315.45,641.68 L317.26,640.56 L319.07,639.45 L320.88,638.35 L322.71,637.26 L324.54,636.18 L326.37,635.11 L328.22,634.05 L330.06,632.99 L331.92,631.95 L333.78,630.92 L335.64,629.90 L337.51,628.89 L339.39,627.88 L341.27,626.89 L343.16,625.91 L345.05,624.94 L346.95,623.98 L348.85,623.03 L350.76,622.10 L352.68,621.17 L354.59,620.25 L356.52,619.35 L358.45,618.46 L360.38,617.57 L362.32,616.70 L364.27,615.85 L366.22,615.00 L368.18,614.16 L370.14,613.34 L372.10,612.53 L374.07,611.73 L376.04,610.94 L378.02,610.16 L380.01,609.40 L381.99,608.65 L383.99,607.91 L385.98,607.19 L387.99,606.47 L389.99,605.77 L392.00,605.09 L394.02,604.41 L396.03,603.75 L398.06,603.09 L400.08,602.45 L402.11,601.83 L404.15,601.21 L406.18,600.60 L408.22,600.01 L410.27,599.43 L412.32,598.86 L414.37,598.30 L416.42,597.75 L418.48,597.22 L420.54,596.69 L422.60,596.18 L424.66,595.67 L426.73,595.18 L428.80,594.70 L430.88,594.23 L432.95,593.77 L435.03,593.32 L437.11,592.88 L439.19,592.45 L441.28,592.03 L443.37,591.62 L445.45,591.22 L447.54,590.83 L449.64,590.45 L451.73,590.08 L453.83,589.72 L455.92,589.37 L458.02,589.03 L460.12,588.70 L462.22,588.38 L464.32,588.07 L466.43,587.76 L468.53,587.47 L470.63,587.18 L472.74,586.91 L474.85,586.64 L476.95,586.38 L479.06,586.13 L481.17,585.89 L483.28,585.65 L485.38,585.43 L487.49,585.21 L489.60,585.00" stroke-dasharray="9.1 3.45 1.5 3.45" stroke-dashoffset="-1.9"/>
</g>
<g fill="none" stroke="#000" stroke-width="1.35">
<path d="M114.00,591.17 L117.79,591.19 L121.59,591.20 L125.38,591.20 L129.18,591.20 L132.97,591.20 L136.77,591.20 L140.56,591.19 L144.36,591.17 L148.15,591.16 L151.95,591.14 L155.74,591.11 L159.54,591.09 L163.33,591.06 L167.13,591.02 L170.92,590.99 L174.71,590.95 L178.51,590.91 L182.30,590.86 L186.10,590.82 L189.89,590.77 L193.69,590.71 L197.48,590.66 L201.27,590.60 L205.07,590.54 L208.86,590.48 L212.66,590.41 L216.45,590.35 L220.24,590.28 L224.04,590.21 L227.83,590.13 L231.62,590.06 L235.42,589.98 L239.21,589.91 L243.01,589.83 L246.80,589.74 L250.59,589.66 L254.39,589.58 L258.18,589.49 L261.97,589.40 L265.77,589.32 L269.56,589.23 L273.35,589.14 L277.15,589.04 L280.94,588.95 L284.73,588.86 L288.53,588.77 L292.32,588.67 L296.11,588.58 L299.91,588.48 L303.70,588.38 L307.50,588.29 L311.29,588.19 L315.08,588.09 L318.88,588.00 L322.67,587.90 L326.46,587.80 L330.26,587.71 L334.05,587.61 L337.84,587.51 L341.64,587.42 L345.43,587.32 L349.22,587.23 L353.02,587.13 L356.81,587.04 L360.60,586.95 L364.40,586.86 L368.19,586.77 L371.98,586.68 L375.78,586.59 L379.57,586.50 L383.36,586.42 L387.16,586.34 L390.95,586.25 L394.74,586.17 L398.54,586.09 L402.33,586.02 L406.13,585.94 L409.92,585.87 L413.71,585.80 L417.51,585.73 L421.30,585.67 L425.09,585.60 L428.89,585.54 L432.68,585.48 L436.48,585.43 L440.27,585.38 L444.07,585.33 L447.86,585.28 L451.65,585.23 L455.45,585.19 L459.24,585.16 L463.04,585.12 L466.83,585.09 L470.63,585.06 L474.42,585.04 L478.22,585.02 L482.01,585.00 L485.80,584.99 L489.60,584.98" stroke-dasharray="6.5 3.5"/>
<path d="M113.80,596.88 L117.60,596.82 L121.40,596.76 L125.19,596.70 L128.99,596.62 L132.79,596.54 L136.59,596.45 L140.38,596.36 L144.18,596.26 L147.98,596.15 L151.77,596.04 L155.57,595.93 L159.37,595.81 L163.16,595.68 L166.96,595.55 L170.75,595.42 L174.55,595.28 L178.35,595.14 L182.14,594.99 L185.94,594.84 L189.73,594.69 L193.53,594.54 L197.32,594.38 L201.12,594.22 L204.91,594.06 L208.71,593.90 L212.50,593.74 L216.29,593.57 L220.09,593.41 L223.88,593.24 L227.68,593.07 L231.47,592.91 L235.27,592.74 L239.06,592.57 L242.86,592.40 L246.65,592.24 L250.45,592.07 L254.24,591.90 L258.04,591.74 L261.83,591.58 L265.62,591.42 L269.42,591.26 L273.21,591.10 L277.01,590.95 L280.81,590.80 L284.60,590.65 L288.40,590.50 L292.19,590.36 L295.99,590.22 L299.78,590.09 L303.58,589.95 L307.37,589.82 L311.17,589.69 L314.97,589.56 L318.76,589.42 L322.56,589.28 L326.35,589.14 L330.15,588.99 L333.94,588.84 L337.74,588.68 L341.53,588.51 L345.32,588.33 L349.12,588.16 L352.91,587.98 L356.71,587.80 L360.50,587.62 L364.29,587.44 L368.09,587.27 L371.88,587.10 L375.68,586.94 L379.47,586.79 L383.27,586.64 L387.06,586.50 L390.86,586.37 L394.65,586.25 L398.45,586.13 L402.25,586.03 L406.04,585.93 L409.84,585.84 L413.64,585.76 L417.43,585.69 L421.23,585.62 L425.03,585.56 L428.83,585.51 L432.63,585.46 L436.42,585.42 L440.22,585.39 L444.02,585.35 L447.82,585.32 L451.62,585.29 L455.42,585.27 L459.22,585.24 L463.02,585.22 L466.81,585.19 L470.61,585.17 L474.41,585.14 L478.21,585.11 L482.01,585.08 L485.80,585.04 L489.60,585.00"/>
<path d="M139.90,604.09 L143.43,603.88 L146.96,603.66 L150.50,603.44 L154.03,603.22 L157.56,603.00 L161.09,602.78 L164.62,602.56 L168.16,602.34 L171.69,602.11 L175.22,601.89 L178.75,601.66 L182.28,601.43 L185.81,601.20 L189.35,600.97 L192.88,600.74 L196.41,600.51 L199.94,600.27 L203.47,600.04 L207.00,599.80 L210.53,599.56 L214.06,599.32 L217.59,599.08 L221.12,598.84 L224.65,598.60 L228.18,598.36 L231.71,598.11 L235.24,597.87 L238.77,597.62 L242.30,597.37 L245.83,597.12 L249.36,596.87 L252.89,596.62 L256.42,596.37 L259.95,596.12 L263.48,595.87 L267.01,595.61 L270.54,595.36 L274.07,595.10 L277.60,594.85 L281.13,594.59 L284.66,594.34 L288.19,594.09 L291.72,593.83 L295.25,593.58 L298.78,593.33 L302.31,593.08 L305.84,592.83 L309.37,592.58 L312.90,592.32 L316.43,592.06 L319.96,591.80 L323.49,591.53 L327.02,591.26 L330.54,590.98 L334.07,590.69 L337.60,590.39 L341.12,590.08 L344.65,589.77 L348.17,589.46 L351.70,589.15 L355.22,588.85 L358.75,588.55 L362.28,588.26 L365.80,587.99 L369.33,587.73 L372.86,587.49 L376.39,587.27 L379.92,587.06 L383.46,586.88 L386.99,586.70 L390.52,586.55 L394.06,586.40 L397.60,586.27 L401.13,586.15 L404.67,586.05 L408.21,585.95 L411.74,585.86 L415.28,585.78 L418.82,585.71 L422.36,585.65 L425.90,585.59 L429.44,585.54 L432.98,585.49 L436.52,585.45 L440.06,585.42 L443.60,585.38 L447.14,585.35 L450.68,585.33 L454.22,585.30 L457.76,585.27 L461.29,585.25 L464.83,585.22 L468.37,585.20 L471.91,585.17 L475.45,585.14 L478.99,585.11 L482.53,585.08 L486.06,585.04 L489.60,585.00" stroke-dasharray="1.4 3.7 6 3.6"/>
<line x1="489.6" y1="585.1" x2="499.2" y2="585.1" stroke-width="1.6"/>
</g>
<circle cx="104.25" cy="475.5" r="3.05"/>
<circle cx="168.75" cy="500.75" r="3.05"/>
<circle cx="232.5" cy="526.25" r="3.05"/>
<circle cx="297" cy="549.4" r="3.05"/>
<circle cx="361.25" cy="566.25" r="3.05"/>
<circle cx="425.5" cy="578.25" r="3.05"/>
<circle cx="489.6" cy="585" r="3.05"/>
<circle cx="104.25" cy="730" r="3.05"/>
<circle cx="168.75" cy="701.25" r="3.05"/>
<circle cx="232.5" cy="670" r="3.05"/>
<circle cx="297" cy="639.25" r="3.05"/>
<circle cx="361.25" cy="613.75" r="3.05"/>
<circle cx="425.6" cy="596" r="3.05"/>
<circle cx="489.6" cy="585" r="3.05"/>
<circle cx="126.75" cy="786.25" r="3.05"/>
<circle cx="190.75" cy="736.75" r="3.05"/>
<circle cx="255.1" cy="685" r="3.05"/>
<circle cx="319.4" cy="639.25" r="3.05"/>
<circle cx="383.75" cy="608" r="3.05"/>
<circle cx="448" cy="590.75" r="3.05"/>
<circle cx="489.6" cy="585" r="3.05"/>
<circle cx="489.7" cy="585.1" r="3.35"/>
<rect x="49.4" y="433.9" width="449.8" height="359.80000000000007" fill="none" stroke="#000" stroke-width="1.7"/>
<g stroke="#000" stroke-width="1.5">
<line x1="49.4" y1="787.90" x2="54.4" y2="787.90"/>
<line x1="49.4" y1="758.88" x2="56.9" y2="758.88"/>
<line x1="49.4" y1="729.86" x2="54.4" y2="729.86"/>
<line x1="49.4" y1="700.85" x2="56.9" y2="700.85"/>
<line x1="49.4" y1="671.83" x2="54.4" y2="671.83"/>
<line x1="49.4" y1="642.82" x2="56.9" y2="642.82"/>
<line x1="49.4" y1="613.80" x2="54.4" y2="613.80"/>
<line x1="49.4" y1="584.78" x2="56.9" y2="584.78"/>
<line x1="49.4" y1="555.77" x2="54.4" y2="555.77"/>
<line x1="49.4" y1="526.75" x2="56.9" y2="526.75"/>
<line x1="49.4" y1="497.74" x2="54.4" y2="497.74"/>
<line x1="49.4" y1="468.72" x2="56.9" y2="468.72"/>
<line x1="49.4" y1="439.70" x2="54.4" y2="439.70"/>
<line x1="113.66" y1="793.7" x2="113.66" y2="788.7"/>
<line x1="177.91" y1="793.7" x2="177.91" y2="786.2"/>
<line x1="242.17" y1="793.7" x2="242.17" y2="788.7"/>
<line x1="306.43" y1="793.7" x2="306.43" y2="786.2"/>
<line x1="370.69" y1="793.7" x2="370.69" y2="788.7"/>
<line x1="434.94" y1="793.7" x2="434.94" y2="786.2"/>
</g>
<text x="44.2" y="474.22" font-size="17.2" text-anchor="end" textLength="16.5" lengthAdjust="spacingAndGlyphs" >10</text>
<text x="44.2" y="532.25" font-size="17.2" text-anchor="end" textLength="8.25" lengthAdjust="spacingAndGlyphs" >5</text>
<text x="44.2" y="590.28" font-size="17.2" text-anchor="end" textLength="8.25" lengthAdjust="spacingAndGlyphs" >0</text>
<text x="44.2" y="648.32" font-size="17.2" text-anchor="end" textLength="13.74" lengthAdjust="spacingAndGlyphs" >-5</text>
<text x="44.2" y="706.35" font-size="17.2" text-anchor="end" textLength="21.99" lengthAdjust="spacingAndGlyphs" >-10</text>
<text x="44.2" y="764.38" font-size="17.2" text-anchor="end" textLength="21.99" lengthAdjust="spacingAndGlyphs" >-15</text>
<text x="49.40" y="811.8" font-size="17.2" text-anchor="middle" textLength="20.62" lengthAdjust="spacingAndGlyphs" >0.2</text>
<text x="177.91" y="811.8" font-size="17.2" text-anchor="middle" textLength="20.62" lengthAdjust="spacingAndGlyphs" >0.4</text>
<text x="306.43" y="811.8" font-size="17.2" text-anchor="middle" textLength="20.62" lengthAdjust="spacingAndGlyphs" >0.6</text>
<text x="434.94" y="811.8" font-size="17.2" text-anchor="middle" textLength="20.62" lengthAdjust="spacingAndGlyphs" >0.8</text>
<text x="274.4" y="829.2" font-size="16.5" text-anchor="middle" textLength="48" lengthAdjust="spacingAndGlyphs" >R , nm</text>
<text transform="translate(12.2,614.2) rotate(-90)" font-size="16.5" text-anchor="middle" textLength="115.4" lengthAdjust="spacingAndGlyphs">ΔW(R) , kJ/mol</text>
<text x="145.8" y="459.1" font-size="21.5" text-anchor="start" textLength="78" lengthAdjust="spacingAndGlyphs" class="t">Two-site</text>
<text x="66.7" y="479.4" font-size="21" text-anchor="start" class="t">(b)</text>
<g stroke="#000" stroke-width="1.55">
<line x1="268.2" y1="450.9" x2="292.9" y2="450.9"/>
<line x1="268.2" y1="467.6" x2="292.9" y2="467.6" stroke-dasharray="7.2 3.8"/>
<line x1="268.2" y1="483.9" x2="292.9" y2="483.9" stroke-dasharray="1.5 3.9 7.2 3.9"/>
<line x1="268.2" y1="500.5" x2="292.9" y2="500.5" stroke-width="1.1"/>
<line x1="268.2" y1="516.9" x2="292.9" y2="516.9" stroke-width="1.2" stroke="#333"/>
</g>
<circle cx="268.4" cy="516.9" r="3.05"/>
<circle cx="292.5" cy="516.9" r="3.05"/>
<text x="305" y="456.3" font-size="14.5" text-anchor="start" textLength="48.1" lengthAdjust="spacingAndGlyphs" >NO-NO</text>
<text x="305" y="472.6" font-size="14.5" text-anchor="start" textLength="47.3" lengthAdjust="spacingAndGlyphs" >CH-NO</text>
<text x="305" y="489.3" font-size="14.5" text-anchor="start" textLength="46.6" lengthAdjust="spacingAndGlyphs" >CH-CH</text>
<text x="304.8" y="505.5" font-size="14.5" text-anchor="start" font-style="italic">P</text>
<text x="315.1" y="505.5" font-size="14.5" text-anchor="start" >=</text>
<text x="328.5" y="505.5" font-size="14.5" text-anchor="start" textLength="19" lengthAdjust="spacingAndGlyphs" >0.0</text>
<text x="351.6" y="505.5" font-size="14.5" text-anchor="start" textLength="23.9" lengthAdjust="spacingAndGlyphs" >GPa</text>
<text x="304.8" y="521.8" font-size="14.5" text-anchor="start" font-style="italic">P</text>
<text x="315.1" y="521.8" font-size="14.5" text-anchor="start" >=</text>
<text x="328.5" y="521.8" font-size="14.5" text-anchor="start" textLength="19" lengthAdjust="spacingAndGlyphs" >0.5</text>
<text x="351.6" y="521.8" font-size="14.5" text-anchor="start" textLength="23.9" lengthAdjust="spacingAndGlyphs" >GPa</text>
</svg>
</body></html>
